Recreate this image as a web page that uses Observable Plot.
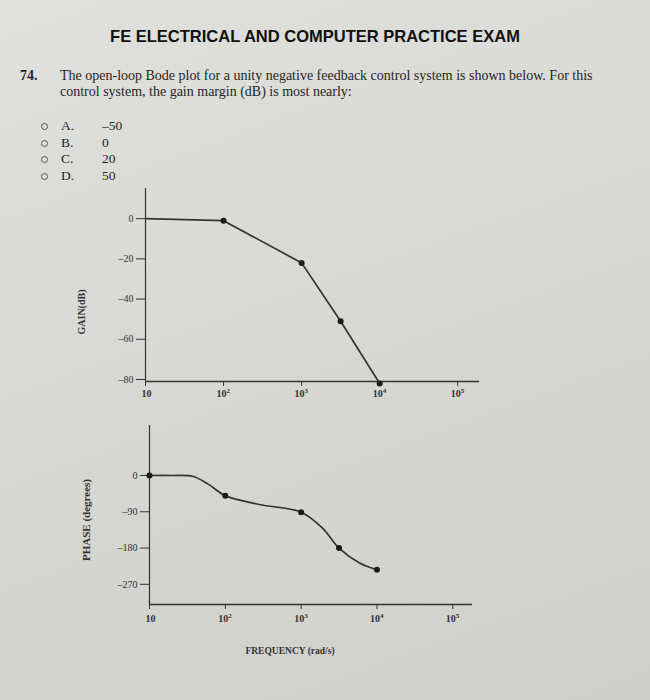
<!DOCTYPE html>
<html><head><meta charset="utf-8">
<script src="https://cdn.jsdelivr.net/npm/d3@7"></script>
<script src="https://cdn.jsdelivr.net/npm/@observablehq/plot@0.6"></script>
<style>
html,body{margin:0;padding:0;}
body{width:650px;height:700px;background:linear-gradient(160deg,#e0e0dc 0%,#d6d6d2 55%,#cfcfcb 100%);position:relative;overflow:hidden;font-family:"Liberation Serif","Times New Roman",serif;color:#252525;}
.abs{position:absolute;white-space:nowrap;}
.q{font-size:14px;}
.opt{font-size:13.5px;line-height:16px;}
.circ{position:absolute;width:5px;height:5px;border:1.3px solid #555;border-radius:50%;}
.plot{position:absolute;}
.ylab{position:absolute;transform:translate(-50%,-50%) rotate(-90deg);font-weight:bold;color:#333;white-space:nowrap;}
</style></head><body>
<div class="abs" style="left:0;width:630px;text-align:center;top:27px;font:bold 16.5px 'Liberation Sans',Arial,sans-serif;color:#111;">FE ELECTRICAL AND COMPUTER PRACTICE EXAM</div>
<div class="abs q" style="left:20px;top:68px;font-weight:bold;">74.</div>
<div class="abs q" style="left:60px;top:68px;">The open-loop Bode plot for a unity negative feedback control system is shown below. For this</div>
<div class="abs q" style="left:60px;top:84px;">control system, the gain margin (dB) is most nearly:</div>
<div id="opts"></div>
<div id="gain" class="plot" style="left:60px;top:180px;"></div>
<div id="phase" class="plot" style="left:60px;top:410px;"></div>
<div class="ylab" style="left:81px;top:312px;font-size:10px;">GAIN(dB)</div>
<div class="ylab" style="left:86px;top:520px;font-size:11px;">PHASE (degrees)</div>
<div class="abs" style="left:290px;top:646px;transform:translateX(-50%);font-size:9.5px;font-weight:bold;color:#333;">FREQUENCY (rad/s)</div>
<script>
// ---- data ----
const optionLetters = ["A.", "B.", "C.", "D."];
const optionValues = ["–50", "0", "20", "50"];
const freqTicks = [10, 100, 1000, 10000, 100000];
const freqTickBase = ["10", "10", "10", "10", "10"];
const freqTickExp = ["", "2", "3", "4", "5"];
const gainTicks = [0, -20, -40, -60, -80];
const phaseTicks = [0, -90, -180, -270];
const gainFreq = [10, 100, 1000, 3162, 10000];
const gainDb = [0, -1, -22, -51, -82];
const gainMarkerFreq = [100, 1000, 3162, 10000];
const gainMarkerDb = [-1, -22, -51, -82];
const phaseFreq = [10, 20, 37, 60, 100, 280, 1000, 1900, 3162, 5900, 10000];
const phaseDeg = [0, 0, -2, -22, -50, -72, -91, -130, -180, -217, -234];
const phaseMarkerFreq = [10, 100, 1000, 3162, 10000];
const phaseMarkerDeg = [0, -50, -91, -180, -234];

// options
const opts = document.getElementById("opts");
const rowTops = [118, 135, 151, 168];
optionLetters.forEach((l, i) => {
  const y = rowTops[i];
  opts.insertAdjacentHTML("beforeend",
    `<span class="circ" style="left:41px;top:${y + 5}px;"></span>` +
    `<div class="abs opt" style="left:61px;top:${y}px;">${l}</div>` +
    `<div class="abs opt" style="left:102px;top:${y}px;">${optionValues[i]}</div>`);
});

const fmtY = d => d < 0 ? "–" + (-d) : String(d);
const ink = "#333";
const styleObj = {background: "transparent", fontFamily: "'Liberation Serif', serif", fontSize: "10px", color: ink, overflow: "visible"};
const tickRows = freqTicks.map((f, i) => ({f, base: freqTickBase[i], exp: freqTickExp[i]}));

function xLabels(dyBase) {
  return [
    Plot.text(tickRows, {filter: d => !d.exp, x: "f", text: "base", frameAnchor: "bottom", dy: dyBase, dx: 1,
      fontSize: 10, fontWeight: "bold", fill: ink}),
    Plot.text(tickRows, {filter: d => d.exp, x: "f", text: "base", frameAnchor: "bottom", dy: dyBase, dx: -2,
      fontSize: 10, fontWeight: "bold", fill: ink}),
    Plot.text(tickRows, {filter: d => d.exp, x: "f", text: "exp", frameAnchor: "bottom", dy: dyBase - 4, dx: 3,
      textAnchor: "start", fontSize: 7, fontWeight: "bold", fill: ink})
  ];
}

const gainData = gainFreq.map((f, i) => ({f, v: gainDb[i]}));
const gainMarks = gainMarkerFreq.map((f, i) => ({f, v: gainMarkerDb[i]}));
const gainPlot = Plot.plot({
  width: 420, height: 230, marginLeft: 85, marginRight: 1, marginTop: 8, marginBottom: 29,
  style: styleObj,
  x: {type: "log", domain: [10, 190000]},
  y: {domain: [-81, 15]},
  marks: [
    Plot.ruleX([10], {y1: -81, y2: 15, stroke: ink, strokeWidth: 1.2}),
    Plot.ruleY([-81], {x1: 10, x2: 190000, stroke: ink, strokeWidth: 1.5}),
    Plot.axisY({ticks: gainTicks, tickSize: 9, tickPadding: 3, tickFormat: fmtY, label: null, stroke: ink, fontSize: 10}),
    Plot.axisX({ticks: freqTicks, tickSize: 5, tickFormat: () => "", label: null, stroke: ink}),
    ...xLabels(15),
    Plot.line(gainData, {x: "f", y: "v", stroke: ink, strokeWidth: 1.7}),
    Plot.dot(gainMarks, {x: "f", y: "v", r: 3, fill: "#1a1a1a"})
  ]
});
document.getElementById("gain").appendChild(gainPlot);

const phaseData = phaseFreq.map((f, i) => ({f, v: phaseDeg[i]}));
const phaseMarks = phaseMarkerFreq.map((f, i) => ({f, v: phaseMarkerDeg[i]}));
const phasePlot = Plot.plot({
  width: 420, height: 230, marginLeft: 89, marginRight: 8, marginTop: 15, marginBottom: 36,
  style: styleObj,
  x: {type: "log", domain: [10, 182000]},
  y: {domain: [-320, 124]},
  marks: [
    Plot.ruleX([10], {y1: -320, y2: 124, stroke: ink, strokeWidth: 1.2}),
    Plot.ruleY([-320], {x1: 10, x2: 182000, stroke: ink, strokeWidth: 1.5}),
    Plot.ruleX([10], {y1: -312, y2: -320, stroke: ink, strokeWidth: 1.2}),
    Plot.axisY({ticks: phaseTicks, tickSize: 9, tickPadding: 3, tickFormat: fmtY, label: null, stroke: ink, fontSize: 10}),
    Plot.axisX({ticks: freqTicks, tickSize: 5, tickFormat: () => "", label: null, stroke: ink}),
    ...xLabels(17),
    Plot.line(phaseData, {x: "f", y: "v", stroke: ink, strokeWidth: 1.7, curve: "catmull-rom"}),
    Plot.dot(phaseMarks, {x: "f", y: "v", r: 3, fill: "#1a1a1a"})
  ]
});
document.getElementById("phase").appendChild(phasePlot);
</script>
</body></html>
